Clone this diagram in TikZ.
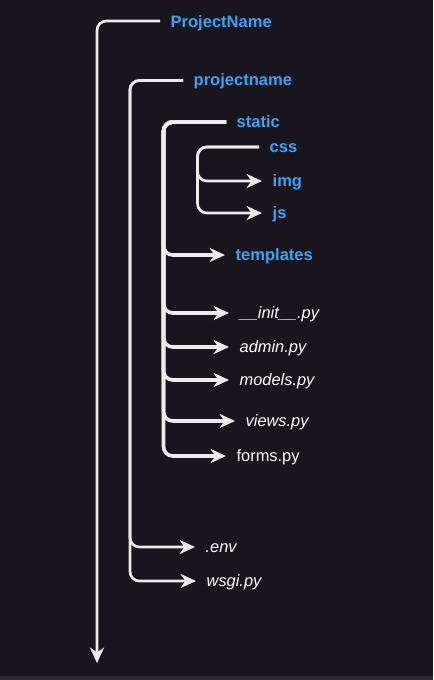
\documentclass[tikz,border=0pt]{standalone}
\usepackage{fontspec}
\setmainfont{Liberation Sans}
\usetikzlibrary{arrows.meta}
\definecolor{bg}{RGB}{24,21,30}
\definecolor{strip}{RGB}{43,40,48}
\definecolor{fold}{RGB}{56,163,245}
\definecolor{wire}{RGB}{236,236,236}
\begin{document}
\begin{tikzpicture}[x=0.75pt,y=-0.75pt,
  lbl/.style={anchor=west,inner sep=0pt,outer xsep=8pt,text depth=0pt,text height=0.78em},
  dirlabel/.style={lbl,text=fold,font=\fontsize{12.4}{14}\selectfont\bfseries},
  filelabel/.style={lbl,text=white,font=\fontsize{12.3}{14}\selectfont\itshape},
  plainfile/.style={lbl,text=white,font=\fontsize{12.3}{14}\selectfont},
  wirestyle/.style={draw=wire,line width=2pt,rounded corners=7pt},
  thickwire/.style={wirestyle,line width=2.7pt},
  tip/.style={-{Stealth[length=11.5pt,width=10.5pt,inset=3.5pt]}}]
\fill[bg] (0,0) rectangle (433,680);
\fill[strip] (0,676) rectangle (433,680);
% labels
\node[dirlabel,text height=0.98em] (PN) at (160,21) {ProjectName};
\node[dirlabel] (pn) at (183,80.5) {projectname};
\node[dirlabel] (ST) at (226,122) {static};
\node[dirlabel] (CS) at (259,147) {css};
\node[dirlabel] (IM) at (262,181) {img};
\node[dirlabel] (JS) at (262,213) {js};
\node[dirlabel] (TE) at (225,255) {templates};
\node[filelabel] (IN) at (229,313) {\_\_init\_\_.py};
\node[filelabel] (AD) at (229,347) {admin.py};
\node[filelabel] (MO) at (229,380) {models.py};
\node[filelabel] (VI) at (235,421) {views.py};
\node[plainfile] (FO) at (226,456) {forms.py};
\node[filelabel] (EN) at (195,547) {.env};
\node[filelabel] (WS) at (196,581) {wsgi.py};
% trunk x positions
\coordinate (xa) at (97,0);
\coordinate (xb) at (130,0);
\coordinate (xc) at (163.5,0);
\coordinate (xd) at (197.5,0);
\coordinate (endA) at (97,663);
% ProjectName
\draw[wirestyle,tip] (PN.west) -| (endA);
% projectname
\draw[wirestyle,tip] (pn.west) -| (xb |- EN.west) -- (EN.west);
\draw[wirestyle,tip] (pn.west) -| (xb |- WS.west) -- (WS.west);
% static
\foreach \n in {TE,IN,AD,MO,VI,FO}
  \draw[thickwire,tip] (ST.west) -| (xc |- \n.west) -- (\n.west);
% css
\draw[wirestyle,tip] (CS.west) -| (xd |- IM.west) -- (IM.west);
\draw[wirestyle,tip] (CS.west) -| (xd |- JS.west) -- (JS.west);
\end{tikzpicture}
\end{document}
